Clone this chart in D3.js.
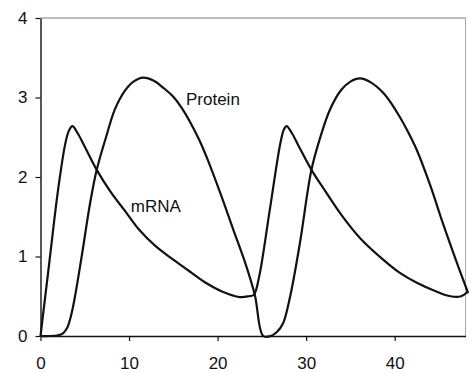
<!DOCTYPE html>
<html>
<head>
<meta charset="utf-8">
<script src="https://cdn.jsdelivr.net/npm/d3@7"></script>
<style>
  body { margin: 0; background: #fff; }
  svg { display: block; font-family: "Liberation Sans", Arial, sans-serif; }
</style>
</head>
<body>
<div id="chart"></div>
<script>
// Values (time, level)
var mrnaTime = [0, 1, 2, 2.8, 3.2, 3.6, 4.2, 5, 6.35, 8, 9.5, 11.2, 13, 15, 17, 18.8, 20.5, 22.5, 23.5, 24.1,
  24.7, 25.9, 27.1, 27.5, 27.8, 28.4, 29.2, 30.6, 32, 34, 36.1, 38.7, 40.5, 42.5, 44.5, 46.3, 47.5, 48.2];
var mrnaLevel = [0, 0.93, 1.85, 2.42, 2.58, 2.64, 2.55, 2.38, 2.09, 1.8, 1.58, 1.33, 1.13, 0.96, 0.8, 0.66, 0.56, 0.49, 0.5, 0.52,
  0.75, 1.59, 2.43, 2.6, 2.64, 2.55, 2.38, 2.09, 1.85, 1.52, 1.23, 0.96, 0.8, 0.67, 0.57, 0.5, 0.5, 0.55];

var proteinTime = [0, 1, 2, 2.5, 3, 3.5, 3.9, 4.65, 5.6, 6.35, 7.4, 8.4, 9.5, 10.5, 11.6, 12.8, 14, 15, 16, 17, 18,
  18.8, 20.3, 21.8, 23, 24.2, 25.15, 26, 26.7, 27.4, 28.2, 29.3, 30.6, 31.6, 32.7, 34, 35, 36.1,
  37.3, 38.7, 39.6, 40.5, 41.5, 42.5, 44, 45.5, 47, 48.3];
var proteinLevel = [0, 0, 0.01, 0.03, 0.1, 0.28, 0.5, 1.0, 1.67, 2.09, 2.5, 2.85, 3.08, 3.2, 3.25, 3.21, 3.11, 3.01, 2.86, 2.67, 2.45,
  2.24, 1.8, 1.33, 0.96, 0.52, 0, 0, 0.05, 0.16, 0.5, 1.17, 2.09, 2.5, 2.85, 3.1, 3.2, 3.24,
  3.19, 3.06, 2.93, 2.77, 2.57, 2.34, 1.9, 1.4, 0.93, 0.54];

var xTicks = [0, 10, 20, 30, 40];
var yTicks = [0, 1, 2, 3, 4];

var labelText = ["Protein", "mRNA"];
var labelTime = [16.43, 10.19];
var labelLevel = [2.9, 1.56];

var w = 474, h = 373;
var margin = { top: 18, right: 8.5, bottom: 37, left: 40.5 };

var svg = d3.select("#chart").append("svg")
  .attr("width", w)
  .attr("height", h);

var x = d3.scaleLinear().domain([0, 48]).range([margin.left, w - margin.right]);
var y = d3.scaleLinear().domain([0, 4]).range([h - margin.bottom, margin.top]);

// top and right frame lines (grey)
svg.append("line")
  .attr("x1", x(0)).attr("x2", x(48))
  .attr("y1", y(4)).attr("y2", y(4))
  .style("stroke", "#777").style("stroke-width", 1);
svg.append("line")
  .attr("x1", x(48)).attr("x2", x(48))
  .attr("y1", y(4)).attr("y2", y(0))
  .style("stroke", "#aaa").style("stroke-width", 1);

// axes
var xAxis = svg.append("g")
  .attr("transform", "translate(0," + y(0) + ")")
  .call(d3.axisBottom(x).tickValues(xTicks).tickFormat(d3.format("d"))
    .tickSize(5).tickSizeOuter(0).tickPadding(16));
var yAxis = svg.append("g")
  .attr("transform", "translate(" + x(0) + ",0)")
  .call(d3.axisLeft(y).tickValues(yTicks).tickFormat(d3.format("d"))
    .tickSize(5).tickSizeOuter(0).tickPadding(8));

[xAxis, yAxis].forEach(function (g) {
  g.select(".domain").style("stroke", "#111").style("stroke-width", 1.4);
  g.selectAll(".tick line").style("stroke", "#111").style("stroke-width", 1.2);
  g.selectAll(".tick text")
    .style("font-size", "17px")
    .style("font-family", "'Liberation Sans', Arial, sans-serif")
    .style("fill", "#111");
});

var line = d3.line()
  .x(function (d) { return x(d[0]); })
  .y(function (d) { return y(Math.max(0, d[1])); })
  .curve(d3.curveCatmullRom.alpha(0.5));

var mrna = d3.zip(mrnaTime, mrnaLevel);
var protein = d3.zip(proteinTime, proteinLevel);

svg.selectAll("path.curve")
  .data([mrna, protein])
  .enter()
  .append("path")
  .attr("class", "curve")
  .attr("d", line)
  .style("fill", "none")
  .style("stroke", "#111")
  .style("stroke-width", 2.2)
  .style("stroke-linejoin", "round");

svg.selectAll("text.label")
  .data(labelText)
  .enter()
  .append("text")
  .attr("class", "label")
  .attr("x", function (d, i) { return x(labelTime[i]); })
  .attr("y", function (d, i) { return y(labelLevel[i]); })
  .style("font-size", "17px")
  .style("fill", "#111")
  .text(function (d) { return d; });
</script>
</body>
</html>
